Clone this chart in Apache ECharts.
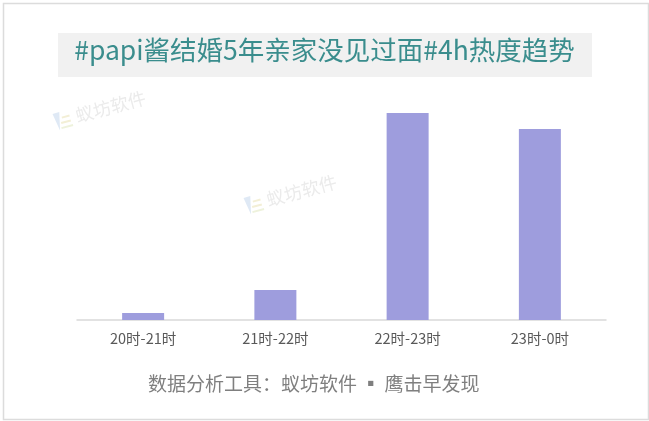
<!DOCTYPE html>
<html>
<head>
<meta charset="utf-8">
<script src="https://cdn.jsdelivr.net/npm/echarts@6/dist/echarts.min.js"></script>
<style>
html,body{margin:0;padding:0;background:#fff;}
#c{width:649px;height:421px;}
</style>
</head>
<body>
<div id="c"></div>
<script>
var titleText = '#papi酱结婚5年亲家没见过面#4h热度趋势';
var footerText = '数据分析工具：蚁坊软件 ▪ 鹰击早发现';
var categories = ['20时-21时', '21时-22时', '22时-23时', '23时-0时'];
var values = [7, 30, 207, 191];

var FONT = '"Noto Sans CJK SC", "Noto Sans", sans-serif';
var chart = echarts.init(document.getElementById('c'), null, {renderer: 'canvas'});

function watermark(x, y) {
  return {
    type: 'group', x: x, y: y, rotation: 15 * Math.PI / 180, silent: true,
    children: [
      {type: 'polygon', shape: {points: [[0, 2], [7, 2], [3, 20]]}, style: {fill: '#dfe9f5'}},
      {type: 'rect', shape: {x: 8, y: 7, width: 8, height: 2}, style: {fill: '#f3efd6'}},
      {type: 'rect', shape: {x: 6, y: 12, width: 10, height: 2}, style: {fill: '#f3efd6'}},
      {type: 'rect', shape: {x: 5, y: 17, width: 12, height: 2}, style: {fill: '#eef2dc'}},
      {type: 'text', x: 22, y: 1, style: {text: '蚁坊软件', font: '18px ' + FONT, fill: '#ebebeb'}}
    ]
  };
}

chart.setOption({
  backgroundColor: '#fff',
  animation: false,
  grid: {left: 77, right: 43, top: 110, bottom: 101, containLabel: false},
  xAxis: {
    type: 'category',
    data: categories,
    axisLine: {lineStyle: {color: '#d9d9d9', width: 1.5}},
    axisTick: {show: false},
    axisLabel: {color: '#595959', fontSize: 14.5, fontFamily: FONT, margin: 11}
  },
  yAxis: {
    type: 'value', min: 0, max: 210, show: false,
    splitLine: {show: false}
  },
  series: [{
    type: 'bar',
    data: values,
    barWidth: 42,
    itemStyle: {color: '#9e9ddd'}
  }],
  graphic: [
    {type: 'rect', left: 1, top: 1, shape: {width: 645, height: 416}, style: {fill: 'none', stroke: '#dcdcdc', lineWidth: 1.5}, silent: true, z: -10},
    {type: 'rect', left: 58, top: 33, shape: {width: 534, height: 44}, style: {fill: '#f1f1f1'}, z: -5},
    {type: 'text', left: 'center', top: 37, style: {text: titleText, font: '26.5px ' + FONT, fill: '#3a8d8d'}},
    {type: 'text', left: 148, top: 374, style: {text: footerText, font: '19px ' + FONT, fill: '#7f7f7f'}},
    watermark(52, 112),
    watermark(243, 196)
  ]
});
</script>
</body>
</html>
